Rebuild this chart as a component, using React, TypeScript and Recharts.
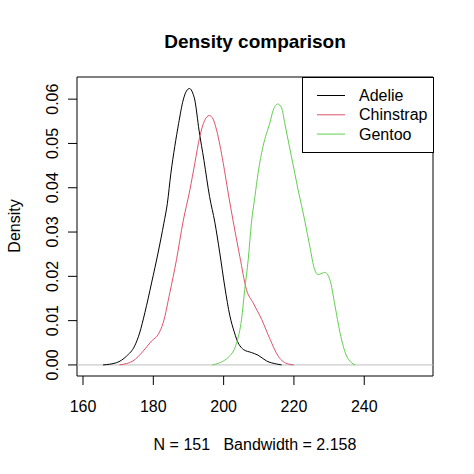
import { LineChart, Line, XAxis, YAxis, ReferenceLine, ReferenceArea } from 'recharts';

// flipper length (mm) and kernel density, one pair of arrays per species
const adelieFlipper = [165.7, 169.5, 172.4, 174.7, 176.1, 177.6, 179.5, 181.4, 183.0, 184.0, 185.0, 186.1, 187.2, 188.5, 189.4, 190.3, 191.2, 191.8, 193.0, 194.4, 196.0, 197.5, 198.9, 200.3, 201.8, 203.0, 203.7, 205.6, 207.9, 209.8, 212.2, 215.1, 216.5];
const adelieDensity = [0, 0.0005, 0.002, 0.0043, 0.0072, 0.0118, 0.0185, 0.0255, 0.032, 0.0365, 0.0433, 0.0493, 0.0545, 0.0598, 0.0618, 0.0624, 0.0614, 0.0598, 0.053, 0.0462, 0.038, 0.0322, 0.0253, 0.0178, 0.011, 0.0075, 0.0058, 0.0035, 0.0028, 0.0022, 0.0009, 0.0002, 0];

const chinstrapFlipper = [170.4, 174.2, 177.1, 179.5, 181.4, 182.8, 184.7, 186.6, 188.5, 190.4, 191.8, 193.2, 194.6, 195.9, 197.0, 198.0, 199.9, 201.3, 202.7, 204.6, 206.5, 208.4, 210.8, 213.2, 215.5, 218.4, 220.0];
const chinstrapDensity = [0, 0.0009, 0.0031, 0.0054, 0.0069, 0.0095, 0.0163, 0.0238, 0.0325, 0.0395, 0.0455, 0.0515, 0.0552, 0.0563, 0.0555, 0.053, 0.0455, 0.0388, 0.0325, 0.0245, 0.017, 0.014, 0.0103, 0.0058, 0.002, 0.0002, 0];

const gentooFlipper = [196.8, 201.3, 203.7, 205.1, 206.0, 207.0, 207.9, 208.9, 209.8, 211.2, 213.2, 214.1, 215.4, 216.5, 217.4, 219.3, 221.2, 223.1, 224.5, 225.9, 226.9, 228.0, 228.8, 230.2, 231.7, 233.1, 235.0, 237.4];
const gentooDensity = [0, 0.0017, 0.005, 0.0103, 0.017, 0.0238, 0.032, 0.038, 0.0433, 0.0493, 0.0548, 0.0575, 0.0589, 0.058, 0.0545, 0.047, 0.0395, 0.0325, 0.0268, 0.0215, 0.0204, 0.0207, 0.0209, 0.0193, 0.0133, 0.0073, 0.002, 0];

const species = ['Adelie', 'Chinstrap', 'Gentoo'];
const colors = ['#000000', '#DF536B', '#61D04F'];
const xTicks = [160, 180, 200, 220, 240];
const yTicks = [0, 0.01, 0.02, 0.03, 0.04, 0.05, 0.06];

const X_MIN = 158.29;
const X_MAX = 259.56;
const Y_MIN = -0.0025;
const Y_MAX = 0.065;

const FONT = '"Liberation Sans", Arial, sans-serif';

const zip = (xs: number[], ys: number[]) => xs.map((v, i) => ({ v, d: ys[i] }));

const series = [
    zip(adelieFlipper, adelieDensity),
    zip(chinstrapFlipper, chinstrapDensity),
    zip(gentooFlipper, gentooDensity),
];

const XTick = (props: any) => {
    const { x, payload } = props;
    return (
        <g>
            <line x1={x} x2={x} y1={376} y2={385} stroke="#000" />
            <text x={x} y={411.5} textAnchor="middle" fontSize={16} fontFamily={FONT} fill="#000">
                {payload.value}
            </text>
        </g>
    );
};

const YTick = (props: any) => {
    const { y, payload } = props;
    const tx = 58;
    return (
        <g>
            <line x1={68} x2={77} y1={y} y2={y} stroke="#000" />
            <text
                x={tx}
                y={y}
                transform={`rotate(-90 ${tx} ${y})`}
                textAnchor="middle"
                fontSize={16}
                fontFamily={FONT}
                fill="#000"
            >
                {payload.value.toFixed(2)}
            </text>
        </g>
    );
};

export default function App() {
    return (
        <div style={{ position: 'absolute', left: 0, top: 0, width: 474, height: 474, background: '#fff' }}>
            <LineChart width={474} height={474} margin={{ top: 77, right: 41, bottom: 0, left: 0 }}>
                <XAxis
                    type="number"
                    dataKey="v"
                    domain={[X_MIN, X_MAX]}
                    ticks={xTicks}
                    allowDataOverflow
                    height={98}
                    axisLine={false}
                    tickLine={false}
                    tick={<XTick />}
                    interval={0}
                />
                <YAxis
                    type="number"
                    domain={[Y_MIN, Y_MAX]}
                    ticks={yTicks}
                    allowDataOverflow
                    width={77}
                    axisLine={false}
                    tickLine={false}
                    tick={<YTick />}
                    interval={0}
                />
                <ReferenceLine y={0} stroke="#BEBEBE" strokeWidth={1} />
                {series.map((data, i) => (
                    <Line
                        key={species[i]}
                        data={data}
                        dataKey="d"
                        type="monotone"
                        stroke={colors[i]}
                        strokeWidth={1}
                        dot={false}
                        activeDot={false}
                        isAnimationActive={false}
                    />
                ))}
                <ReferenceArea
                    x1={X_MIN}
                    x2={X_MAX}
                    y1={Y_MIN}
                    y2={Y_MAX}
                    fill="none"
                    fillOpacity={0}
                    stroke="#000"
                    strokeWidth={1}
                    ifOverflow="visible"
                />
            </LineChart>
            <svg
                width={474}
                height={474}
                style={{ position: 'absolute', left: 0, top: 0, pointerEvents: 'none' }}
                fontFamily={FONT}
            >
                <text x={255} y={48} textAnchor="middle" fontSize={19} fontWeight="bold">
                    Density comparison
                </text>
                <text x={255} y={450} textAnchor="middle" fontSize={16} xmlSpace="preserve">
                    {'N = 151   Bandwidth = 2.158'}
                </text>
                <text x={19.5} y={226} transform="rotate(-90 19.5 226)" textAnchor="middle" fontSize={16}>
                    Density
                </text>
                <rect x={302.5} y={77.5} width={131} height={75} fill="#fff" stroke="#000" />
                {species.map((name, i) => (
                    <g key={name}>
                        <line x1={317} x2={345} y1={95.5 + i * 19.3} y2={95.5 + i * 19.3} stroke={colors[i]} />
                        <text x={359} y={101 + i * 19.3} fontSize={16}>
                            {name}
                        </text>
                    </g>
                ))}
            </svg>
        </div>
    );
}
